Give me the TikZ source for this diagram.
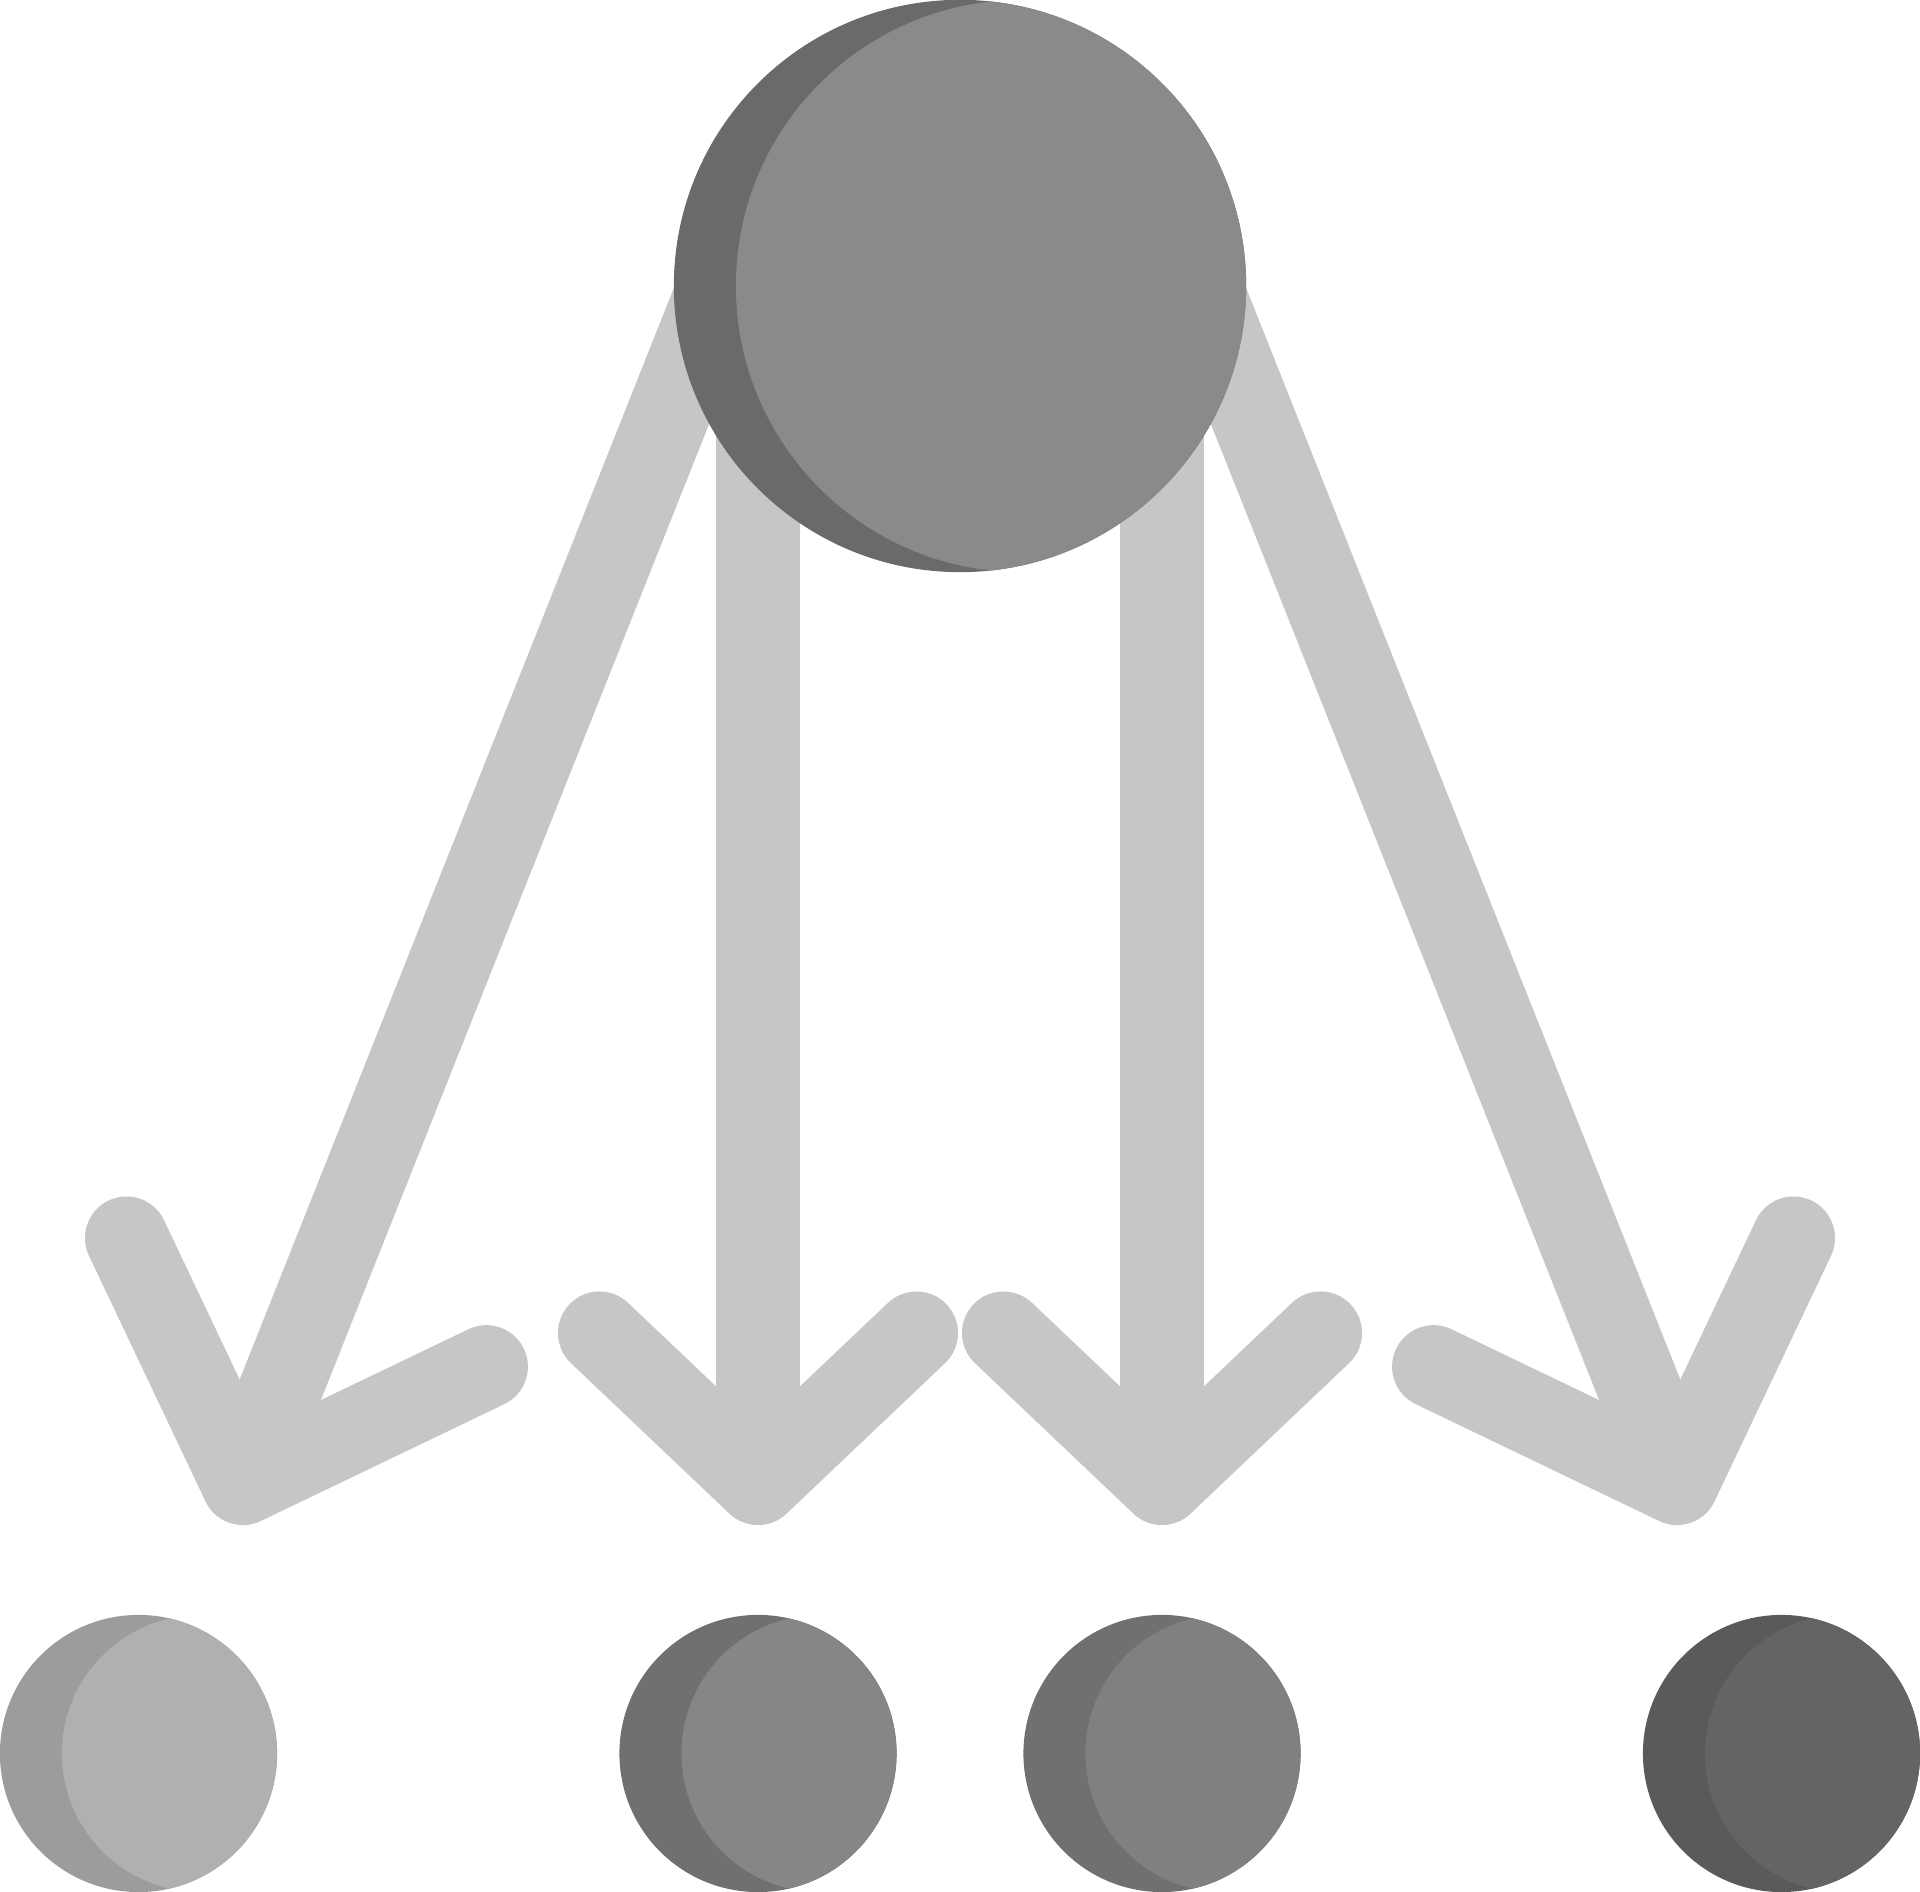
\documentclass[tikz,border=0pt]{standalone}
\usetikzlibrary{arrows.meta}

\definecolor{arrowgray}{HTML}{C6C6C6}
\definecolor{hubdark}{HTML}{6A6A6A}
\definecolor{hublight}{HTML}{8A8A8A}
\definecolor{leafAdark}{HTML}{9C9C9C}
\definecolor{leafAlight}{HTML}{B0B0B0}
\definecolor{leafBdark}{HTML}{707070}
\definecolor{leafBlight}{HTML}{868686}
\definecolor{leafCdark}{HTML}{707070}
\definecolor{leafClight}{HTML}{808080}
\definecolor{leafDdark}{HTML}{5A5A5A}
\definecolor{leafDlight}{HTML}{646464}

\tikzset{
    orb/.style n args={3}{circle, inner sep=0pt, minimum size=#1, fill=#2,
        path picture={\fill[#3] ([xshift=0.62cm]path picture bounding box.center) circle[radius=#1/2];}},
    flow/.style={draw=arrowgray, line width=0.83cm, line cap=round, line join=round},
    shaft/.style={flow, line cap=butt},
}

\begin{document}
\begin{tikzpicture}[x=0.01cm, y=-0.01cm]
    \useasboundingbox (0,0) rectangle (1920,1892);

    \coordinate (fromA) at (725.7,270);
    \coordinate (fromB) at (758,300);
    \coordinate (fromC) at (1162,300);
    \coordinate (fromD) at (1194.3,270);

    \coordinate (tipA) at (243,1483.5);
    \coordinate (tipB) at (758,1483.5);
    \coordinate (tipC) at (1162,1483.5);
    \coordinate (tipD) at (1677,1483.5);

    \draw[shaft] (fromA) -- (tipA);
    \draw[flow] (126.5,1238) -- (tipA) -- (486.4,1366.7);
    \draw[shaft] (fromB) -- (tipB);
    \draw[flow] (599.5,1333) -- (tipB) -- (916.5,1333);
    \draw[shaft] (fromC) -- (tipC);
    \draw[flow] (1003.5,1333) -- (tipC) -- (1320.5,1333);
    \draw[shaft] (fromD) -- (tipD);
    \draw[flow] (1793.5,1238) -- (tipD) -- (1433.6,1366.7);

    \node[orb={5.72cm}{hubdark}{hublight}] (hub) at (960,286) {};

    \node[orb={2.77cm}{leafAdark}{leafAlight}] (leafA) at (138.5,1753.5) {};
    \node[orb={2.77cm}{leafBdark}{leafBlight}] (leafB) at (758,1753.5) {};
    \node[orb={2.77cm}{leafCdark}{leafClight}] (leafC) at (1162,1753.5) {};
    \node[orb={2.77cm}{leafDdark}{leafDlight}] (leafD) at (1781.5,1753.5) {};
\end{tikzpicture}
\end{document}
